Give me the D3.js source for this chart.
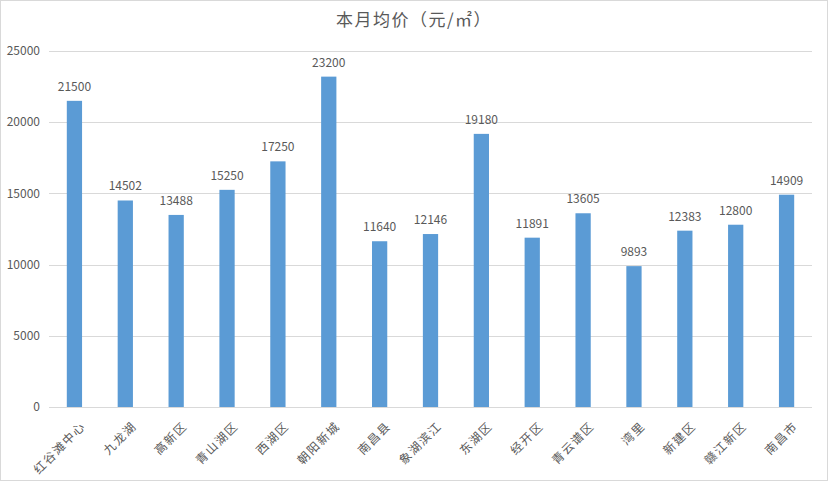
<!DOCTYPE html>
<html>
<head>
<meta charset="utf-8">
<script src="https://cdn.jsdelivr.net/npm/d3@7"></script>
<style>
  html, body { margin: 0; padding: 0; background: #fff; }
  svg text { font-family: "Microsoft YaHei", "Noto Sans CJK SC", sans-serif; fill: #595959; }
</style>
</head>
<body>
<svg id="chart"></svg>
<script>
const categories = ["红谷滩中心", "九龙湖", "高新区", "青山湖区", "西湖区", "朝阳新城", "南昌县", "象湖滨江",
	"东湖区", "经开区", "青云谱区", "湾里", "新建区", "赣江新区", "南昌市"];
const prices = [21500, 14502, 13488, 15250, 17250, 23200, 11640, 12146, 19180, 11891, 13605, 9893, 12383, 12800, 14909];
const yTicks = [0, 5000, 10000, 15000, 20000, 25000];
const title = "本月均价（元/㎡）";

const W = 828, H = 481;
const margin = {top: 51, right: 16, bottom: 74, left: 49};
const width = W - margin.left - margin.right;
const height = H - margin.top - margin.bottom;

const svg = d3.select("#chart").attr("width", W).attr("height", H);

svg.append("rect")
	.attr("x", 0.5).attr("y", 0.5)
	.attr("width", W - 1).attr("height", H - 1)
	.attr("fill", "#fff")
	.attr("stroke", "#d9d9d9");

svg.append("text")
	.attr("x", W / 2).attr("y", 26)
	.attr("text-anchor", "middle")
	.attr("font-size", 17)
	.attr("letter-spacing", 1.5)
	.text(title);

const g = svg.append("g").attr("transform", `translate(${margin.left}, ${margin.top})`);

const x = d3.scaleBand().domain(categories).range([0, width]).paddingInner(0.7).paddingOuter(0.35);
const y = d3.scaleLinear().domain([0, 25000]).range([height, 0]);

// grid
g.selectAll("line.grid")
	.data(yTicks)
	.join("line")
	.attr("class", "grid")
	.attr("x1", 0).attr("x2", width)
	.attr("y1", d => Math.round(y(d)) + 0.5)
	.attr("y2", d => Math.round(y(d)) + 0.5)
	.attr("stroke", "#d9d9d9");

// y labels
g.selectAll("text.ytick")
	.data(yTicks)
	.join("text")
	.attr("class", "ytick")
	.attr("x", -9)
	.attr("y", d => y(d))
	.attr("dy", "0.35em")
	.attr("text-anchor", "end")
	.attr("font-size", 12)
	.text(d => d);

// bars
g.selectAll("rect.bar")
	.data(prices)
	.join("rect")
	.attr("class", "bar")
	.attr("x", (d, i) => x(categories[i]))
	.attr("y", d => y(d))
	.attr("width", x.bandwidth())
	.attr("height", d => height - y(d))
	.attr("fill", "#5b9bd5");

// value labels
g.selectAll("text.val")
	.data(prices)
	.join("text")
	.attr("class", "val")
	.attr("x", (d, i) => x(categories[i]) + x.bandwidth() / 2)
	.attr("y", d => y(d) - 10)
	.attr("text-anchor", "middle")
	.attr("font-size", 12)
	.text(d => d);

// x labels
g.selectAll("text.xlab")
	.data(categories)
	.join("text")
	.attr("class", "xlab")
	.attr("transform", d => `translate(${x(d) + x.bandwidth() / 2 + 9}, ${height + 17}) rotate(-45)`)
	.attr("text-anchor", "end")
	.attr("dy", "0.35em")
	.attr("font-size", 12)
	.attr("letter-spacing", 1.5)
	.text(d => d);
</script>
</body>
</html>
